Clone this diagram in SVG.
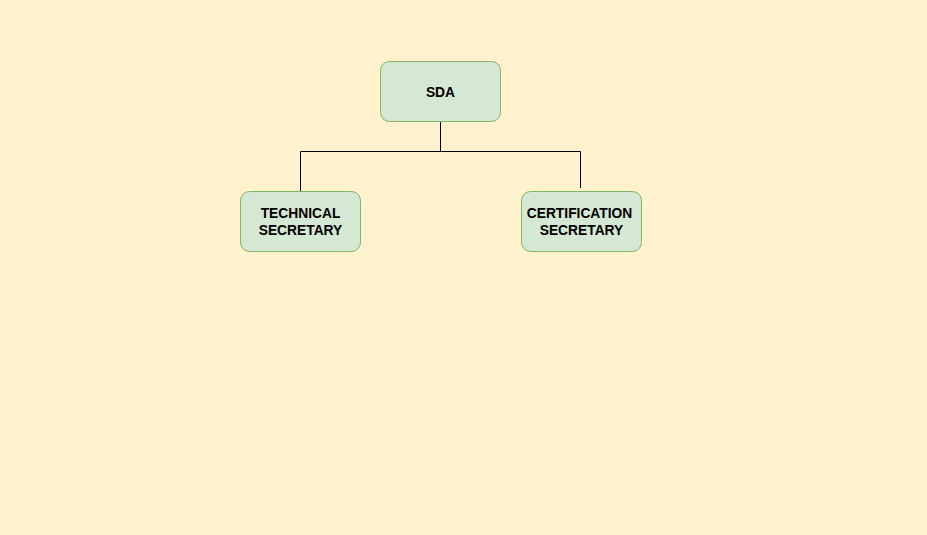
<svg xmlns="http://www.w3.org/2000/svg" width="927" height="535" viewBox="0 0 927 535">
<style>
.node rect { fill: #d5e8d4; stroke: #82b366; stroke-width: 1; }
.node text { font-family: "Liberation Sans", Arial, sans-serif; font-size: 13.8px; font-weight: bold; fill: #000000; text-anchor: middle; }
.edge { fill: none; stroke: #000000; stroke-width: 1; }
</style>
<rect x="0" y="0" width="927" height="535" fill="#fff2cc"/>
<g id="connectors">
<path class="edge" d="M440.5 121.5 V151.5 M300.5 191.5 V151.5 H580.5 V188"/>
</g>
<g id="sda" class="node">
<rect x="380.5" y="61.5" width="120" height="60" rx="9" ry="9"/>
<text x="440.5" y="96.5">SDA</text>
</g>
<g id="technical" class="node">
<rect x="240.5" y="191.5" width="120" height="60" rx="9" ry="9"/>
<text x="300.5" y="217.5">TECHNICAL</text>
<text x="300.5" y="234.5">SECRETARY</text>
</g>
<g id="certification" class="node">
<rect x="521.5" y="191.5" width="120" height="60" rx="9" ry="9"/>
<text x="579.5" y="217.5">CERTIFICATION</text>
<text x="581.5" y="234.5">SECRETARY</text>
</g>
</svg>
